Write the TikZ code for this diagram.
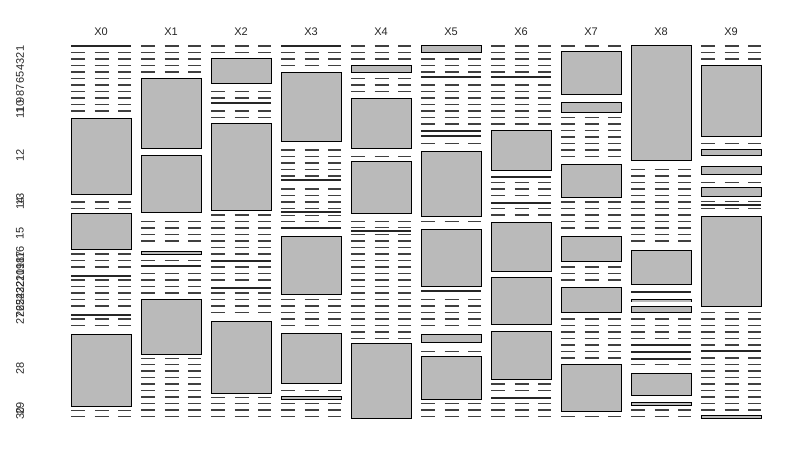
\documentclass[tikz,border=0pt]{standalone}
\usepackage{fontspec}
\setmainfont{Liberation Sans}
\begin{document}
\begin{tikzpicture}[x=1pt,y=-1pt,
  dsh/.style={line width=1.3pt,dash pattern=on 14pt off 9.5pt,black!75},
  sl/.style={line width=1.8pt,black!85},
  bx/.style={fill=black!27,draw=black,line width=0.7pt},
  lab/.style={font=\fontsize{11}{11}\selectfont,inner sep=0pt,text=black!85}]
\useasboundingbox (0,0) rectangle (800,453);
\foreach \i in {0,...,9}{
  \pgfmathsetmacro\xl{71+70*\i}
  \node[lab] at (\xl+30,32) {X\i};
  \foreach \y in {46,52.5,...,417}{ \draw[dsh] (\xl,\y) -- (\xl+60,\y); }
}
\newcommand\bb[3]{\pgfmathsetmacro\xl{71+70*#1}
  \fill[white] (\xl-2,#2-4) rectangle (\xl+62,#3+4);
  \draw[bx] (\xl,#2) rectangle (\xl+60,#3);}
\newcommand\sline[2]{\pgfmathsetmacro\xl{71+70*#1}
  \fill[white] (\xl-2,#2-3) rectangle (\xl+62,#2+3);
  \draw[sl] (\xl,#2) -- (\xl+60,#2);}
% X0
\sline{0}{46}\bb{0}{118}{194}\bb{0}{213}{249}\sline{0}{276}\sline{0}{315}\bb{0}{334}{406}
% X1
\bb{1}{78}{148}\bb{1}{155}{212}\bb{1}{251}{254}\sline{1}{266}\bb{1}{299}{354}
% X2
\bb{2}{58}{83}\sline{2}{103}\bb{2}{123}{210}\sline{2}{261}\sline{2}{288}\bb{2}{321}{393}
% X3
\sline{3}{46}\bb{3}{72}{141}\sline{3}{180}\sline{3}{212}\sline{3}{228}\bb{3}{236}{294}\bb{3}{333}{383}\bb{3}{396}{399}
% X4
\bb{4}{65}{72}\bb{4}{98}{148}\bb{4}{161}{213}\sline{4}{231}\bb{4}{343}{418}
% X5
\bb{5}{45}{52}\sline{5}{77}\sline{5}{131}\sline{5}{136}\bb{5}{151}{216}\bb{5}{229}{286}\sline{5}{291}\bb{5}{334}{342}\bb{5}{356}{399}
% X6
\sline{6}{77}\bb{6}{130}{170}\sline{6}{177}\sline{6}{203}\bb{6}{222}{271}\bb{6}{277}{324}\bb{6}{331}{379}\sline{6}{398}
% X7
\bb{7}{51}{94}\bb{7}{102}{112}\bb{7}{164}{197}\bb{7}{236}{261}\bb{7}{287}{312}\bb{7}{364}{411}
% X8
\bb{8}{45}{160}\bb{8}{250}{284}\sline{8}{292}\bb{8}{299}{302}\bb{8}{306}{312}\sline{8}{345}\sline{8}{352}\sline{8}{359}\bb{8}{373}{395}\bb{8}{402}{405}
% X9
\bb{9}{65}{136}\bb{9}{149}{155}\bb{9}{166}{174}\bb{9}{187}{196}\sline{9}{205}\bb{9}{216}{306}\sline{9}{351}\bb{9}{415}{418}
% y labels
\foreach \t/\y in {1/48,2/55,3/61,4/67,5/74,6/80,7/87,8/93,9/100,10/106,11/113,12/155,13/199,14/203,15/233,16/252,17/257,18/263,19/269,20/275,21/281,22/287,23/293,24/299,25/305,26/311,27/318,28/368,29/408,30/413}
  \node[lab,rotate=90] at (20,\y) {\t};
\end{tikzpicture}
\end{document}
